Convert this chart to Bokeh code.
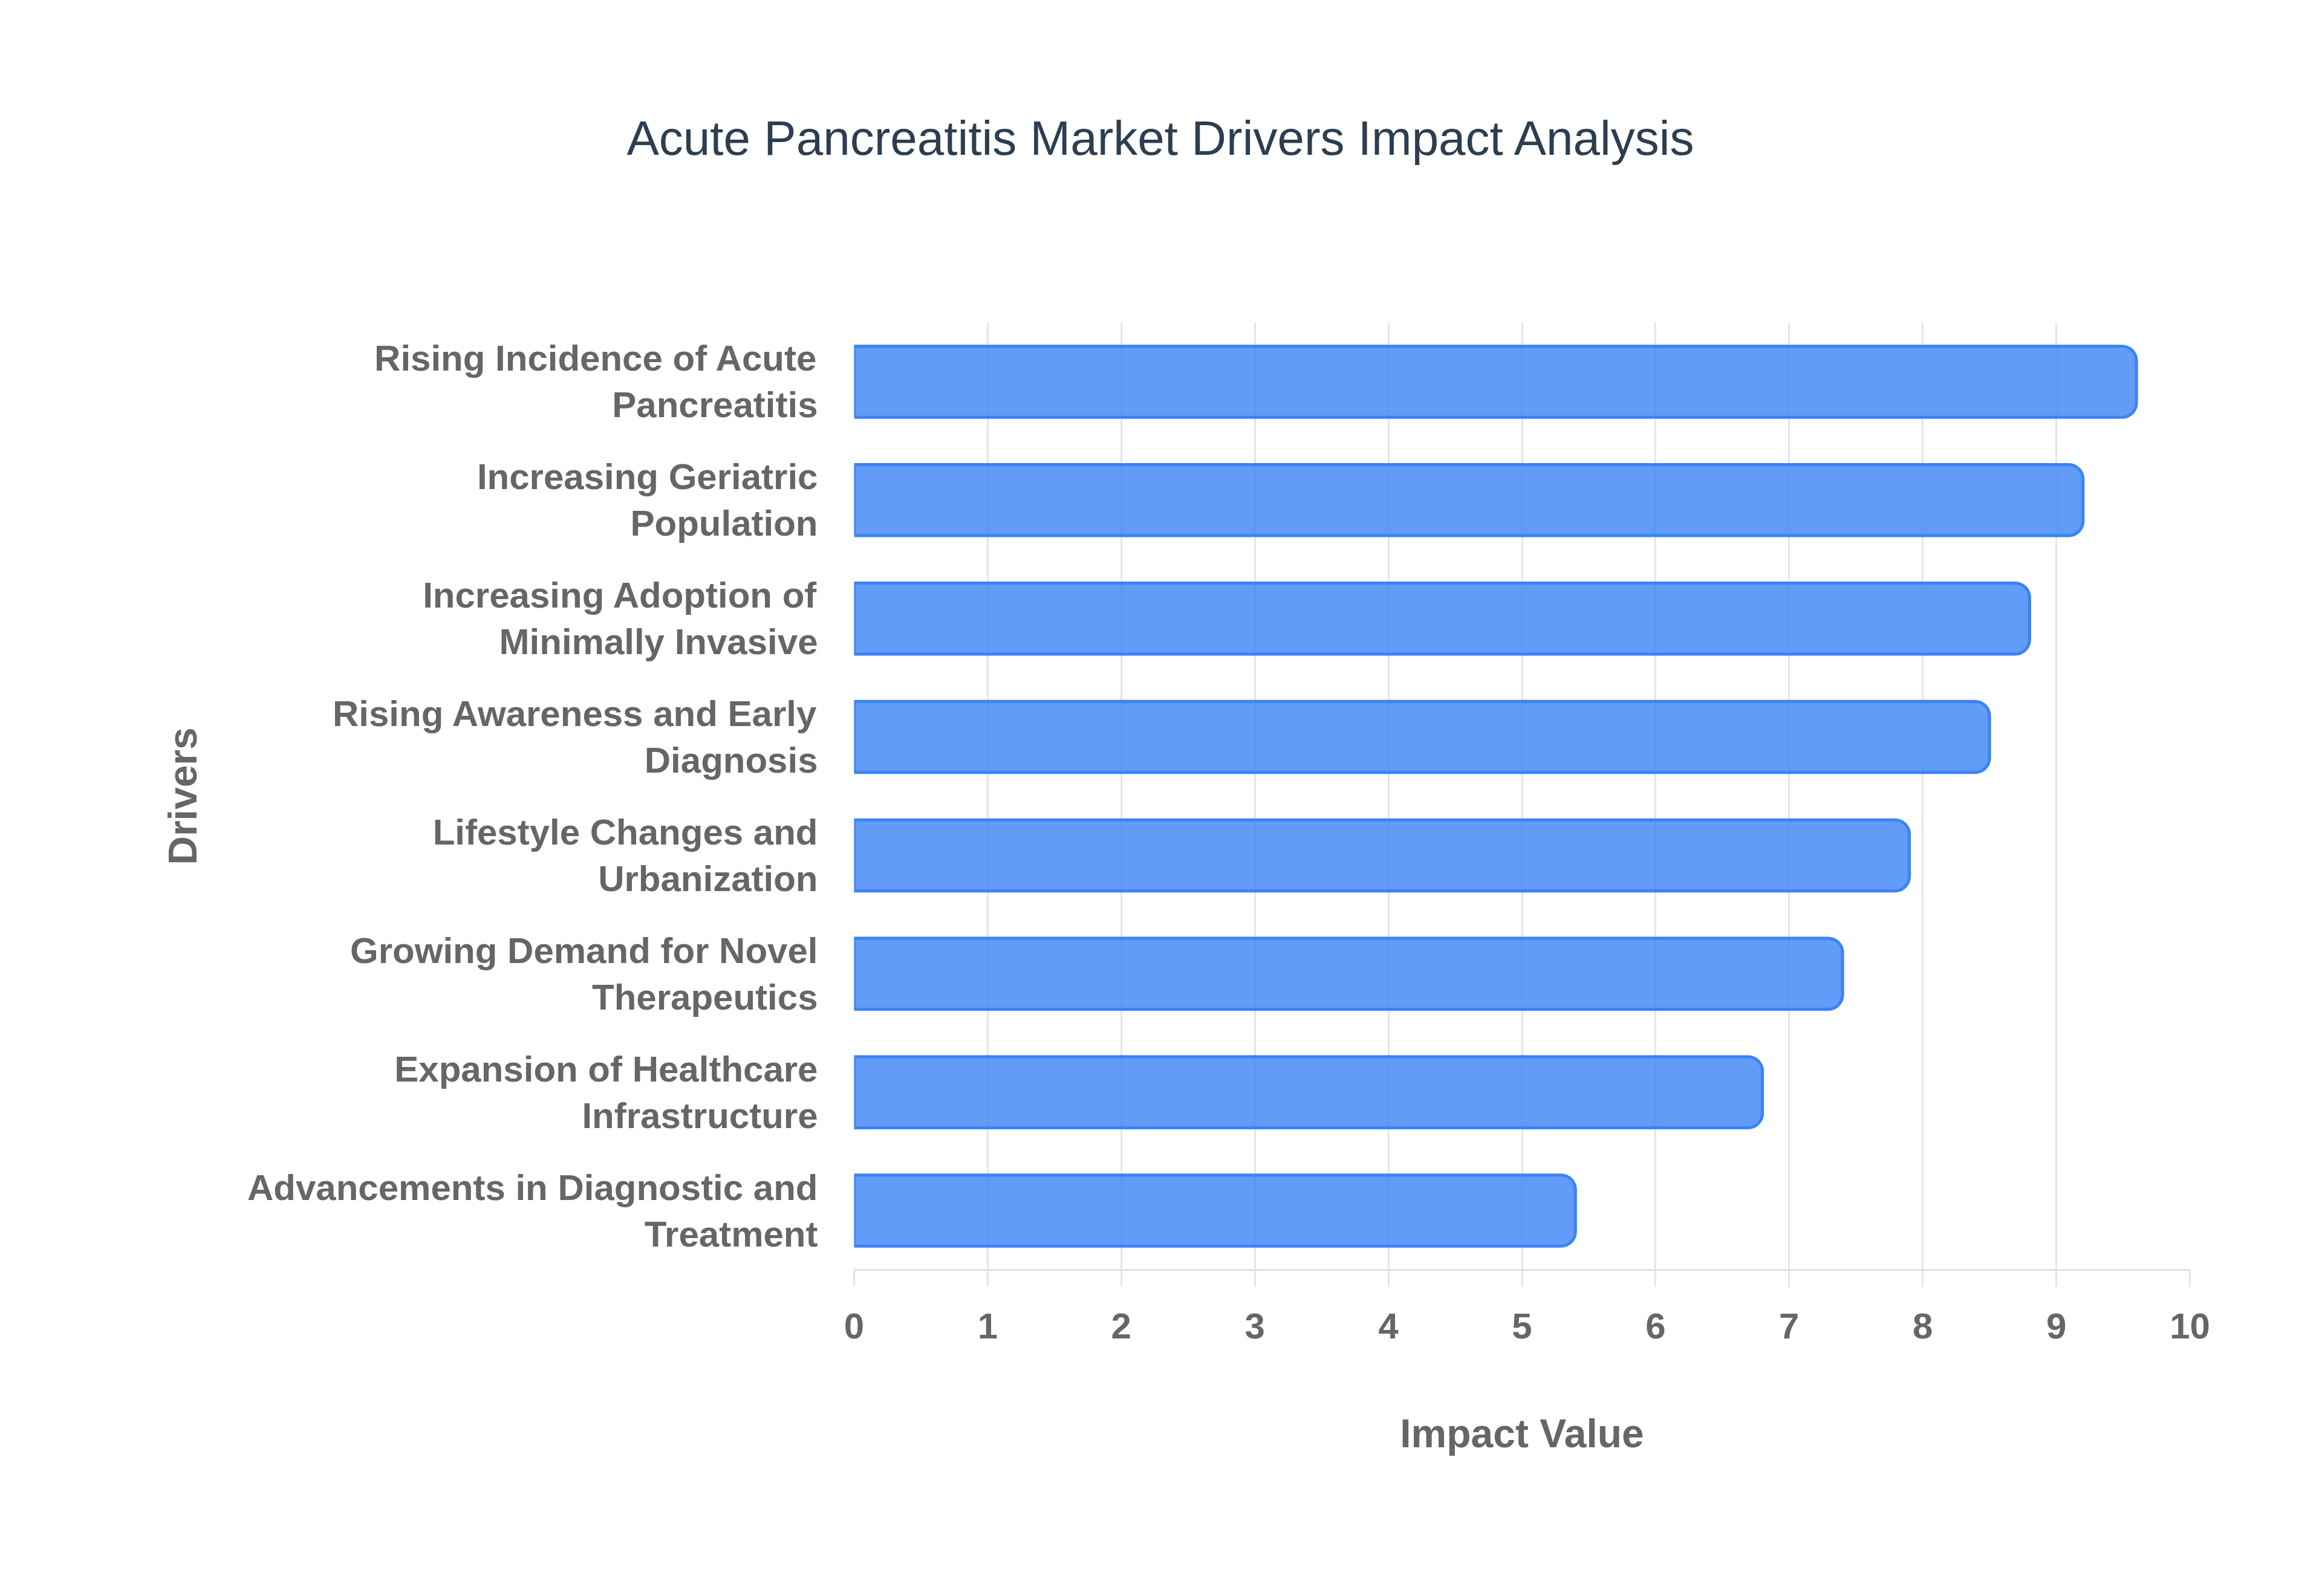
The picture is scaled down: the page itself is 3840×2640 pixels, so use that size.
from bokeh.plotting import figure
from bokeh.models import FactorRange, Range1d, FixedTicker, Title
from bokeh.embed import file_html
from bokeh.resources import INLINE

drivers = [
    "Rising Incidence of Acute\nPancreatitis",
    "Increasing Geriatric\nPopulation",
    "Increasing Adoption of\nMinimally Invasive",
    "Rising Awareness and Early\nDiagnosis",
    "Lifestyle Changes and\nUrbanization",
    "Growing Demand for Novel\nTherapeutics",
    "Expansion of Healthcare\nInfrastructure",
    "Advancements in Diagnostic and\nTreatment",
]
impact = [9.6, 9.2, 8.8, 8.5, 7.9, 7.4, 6.8, 5.4]
x_ticks = [0, 1, 2, 3, 4, 5, 6, 7, 8, 9, 10]

title_text = "Acute Pancreatitis Market Drivers Impact Analysis"
x_label = "Impact Value"
y_label = "Drivers"

W, H = 3824, 2624
BL, BR, BT, BB = 1412, 203, 533, 524
p = figure(
    width=W, height=H,
    y_range=FactorRange(*list(reversed(drivers)), range_padding=0),
    x_range=Range1d(0, 10),
    output_backend="svg", toolbar_location=None,
    min_border_left=BL, min_border_right=BR,
    min_border_top=BT, min_border_bottom=BB,
)
p.outline_line_color = None
p.background_fill_color = "white"
p.border_fill_color = "white"

# neutralise the default (empty) title
p.title.text = ""
p.title.text_font_size = "1px"
p.title.standoff = 0

# spacer between the frame and the real title
spacer = Title(text=" ", text_font_size="10px", standoff=248)
p.add_layout(spacer, "above")

main_title = Title(
    text=title_text, align="left", offset=-376, standoff=0,
    text_font="Liberation Sans", text_font_style="normal",
    text_font_size="80px", text_color="#2c3e50",
)
p.add_layout(main_title, "above")

p.hbar(
    y=drivers, right=impact, left=0, height=0.6,
    fill_color="#3b82f6", fill_alpha=0.8,
    line_color="#3b82f6", line_width=5,
    border_radius=(0, 24, 24, 0),
)

grey = "#666666"
xa = p.xaxis[0]
xa.ticker = FixedTicker(ticks=x_ticks)
xa.axis_line_color = "#e0e0e0"
xa.axis_line_width = 3
xa.major_tick_in = 0
xa.major_tick_out = 28
xa.major_tick_line_color = "#e5e5e5"
xa.major_tick_line_width = 3
xa.minor_tick_line_color = None
xa.major_label_standoff = 44
xa.major_label_text_font = "Liberation Sans"
xa.major_label_text_font_style = "bold"
xa.major_label_text_font_size = "60px"
xa.major_label_text_color = grey
xa.axis_label = x_label
xa.axis_label_text_font = "Liberation Sans"
xa.axis_label_text_font_style = "bold"
xa.axis_label_text_font_size = "66px"
xa.axis_label_text_color = grey
xa.axis_label_standoff = 117

ya = p.yaxis[0]
ya.axis_line_color = None
ya.major_tick_line_color = None
ya.minor_tick_line_color = None
ya.major_tick_in = 0
ya.major_tick_out = 0
ya.major_label_standoff = 60
ya.major_label_text_font = "Liberation Sans"
ya.major_label_text_font_style = "bold"
ya.major_label_text_font_size = "60px"
ya.major_label_text_color = grey
ya.major_label_text_line_height = 1.15
ya.axis_label = y_label
ya.axis_label_text_font = "Liberation Sans"
ya.axis_label_text_font_style = "bold"
ya.axis_label_text_font_size = "66px"
ya.axis_label_text_color = grey
ya.axis_label_standoff = 67

p.xgrid.grid_line_color = "#e5e5e5"
p.xgrid.grid_line_width = 3
p.ygrid.grid_line_color = None

open("out.html", "w").write(file_html(p, INLINE))
